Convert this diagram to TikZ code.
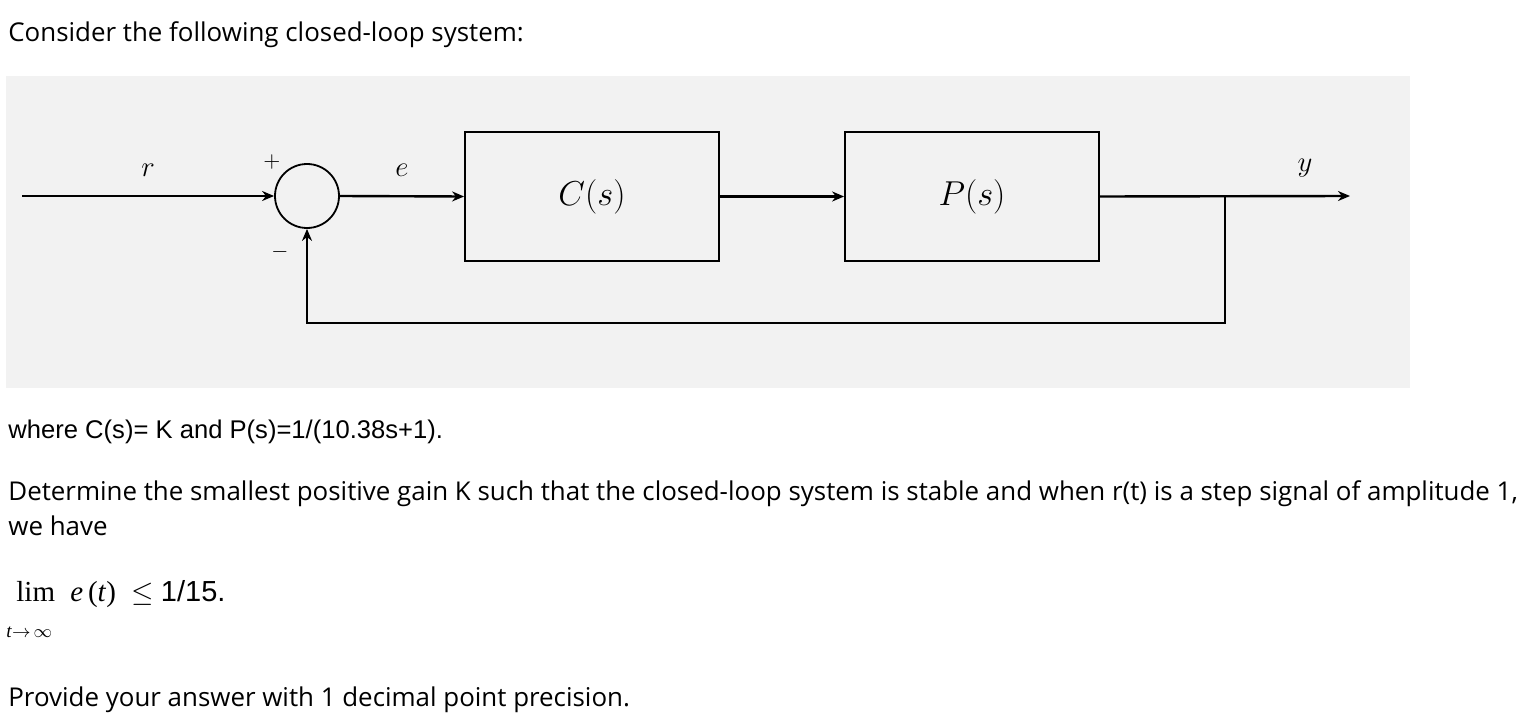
\documentclass[tikz,border=0pt]{standalone}
\usepackage{fontspec}
\setmainfont{Open Sans}
\newfontfamily\arialf{Liberation Sans}
\newfontfamily\serf{Liberation Serif}
\usetikzlibrary{arrows.meta}
\definecolor{bgray}{HTML}{F2F2F2}
\begin{document}
\begin{tikzpicture}[x=0.5pt,y=-0.5pt,
  blk/.style={draw,line width=0.9pt,minimum width=127pt,minimum height=64.5pt,inner sep=0pt,font=\fontsize{19}{22}\selectfont},
  sig/.style={line width=1.2pt,-{Stealth[length=6pt,width=5pt]}},
  txt/.style={anchor=base west,inner sep=0pt,font=\fontsize{12.95}{15}\selectfont},
  ml/.style={inner sep=0pt,font=\fontsize{15}{18}\selectfont}]
\useasboundingbox (0,0) rectangle (1532,722);
\fill[bgray] (6,76) rectangle (1410,388);
\node[txt] (t1) at (8,42) {Consider the following closed-loop system:};
\node[circle,draw,line width=0.9pt,minimum size=32pt,inner sep=0pt] (sum) at (307,196) {};
\node[blk] (C) at (592,196.5) {$C(s)$};
\node[blk] (P) at (972,196.5) {$P(s)$};
\coordinate (in) at (22,196);
\coordinate (out) at (1350,196);
\coordinate (br) at (1225,196);
\coordinate (bl) at (1225,323);
\coordinate (bb) at (307,323);
\draw[sig] (in) -- (sum.west);
\draw[sig] (sum.east) -- (C.west);
\draw[sig] (C.east) -- (P.west);
\draw[sig] (P.east) -- (out);
\draw[sig] (br) -- (bl) -- (bb) -- (sum.south);
\node[ml] (r) at (148,170) {$r$};
\node[ml] (e) at (402,170) {$e$};
\node[ml] (y) at (1305,168) {$y$};
\node[inner sep=0pt,font=\fontsize{11}{12}\selectfont] (plus) at (272,162) {$+$};
\node[inner sep=0pt,font=\fontsize{11}{12}\selectfont] (minus) at (280,252) {$-$};
\node[txt,font=\arialf\fontsize{12.8}{15}\selectfont] (t2) at (8,438) {where C(s)= K and P(s)=1/(10.38s+1).};
\node[txt] (t3) at (8,500) {Determine the smallest positive gain K such that the closed-loop system is stable and when r(t) is a step signal of amplitude 1,};
\node[txt] (t4) at (8,535) {we have};
\node[txt,font=\serf\fontsize{14.5}{16}\selectfont] (lim) at (16,601) {lim\; \textit{e}\,(\textit{t})\; $\leq$ {\arialf 1/15.}};
\node[txt,font=\serf\fontsize{9.5}{10}\selectfont] (sub) at (6,637) {\textit{t}$\rightarrow$\,$\infty$};
\node[txt] (t5) at (8,706) {Provide your answer with 1 decimal point precision.};
\end{tikzpicture}
\end{document}
